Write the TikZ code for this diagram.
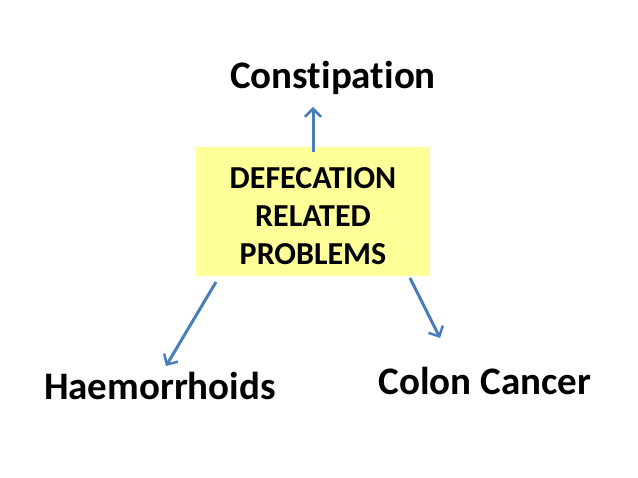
\documentclass[tikz,border=0pt]{standalone}
\usepackage{fontspec}
\setmainfont{Carlito}[Ligatures=NoCommon]
\usepackage{xcolor}
\usetikzlibrary{arrows.meta,positioning}
\definecolor{arrowblue}{HTML}{4A7EBB}
\definecolor{boxyellow}{HTML}{FFFF99}

\begin{document}
\begin{tikzpicture}[x=1pt, y=1pt,
    topic/.style={font=\fontsize{32}{38}\selectfont\bfseries, align=center, fill=boxyellow, minimum width=234pt, minimum height=129pt, inner sep=0pt},
    outcome/.style={font=\fontsize{39}{44}\selectfont\bfseries, inner sep=0pt},
    link/.style={arrowblue, line width=3pt, -{Straight Barb[length=8pt, width=16pt, line width=2.5pt]}}]
    \useasboundingbox (0,0) rectangle (638,478);
    % Central box
    \node[topic] (problems) at (313,266) {};
    \node[font=\fontsize{32}{38}\selectfont\bfseries, align=center] (problemstext) at (313,262) {DEFECATION\\RELATED\\PROBLEMS};
    % Outcomes
    \node[outcome] (constipation) at (333,400) {Constipation};
    \node[outcome] (haemorrhoids) at (160,92) {Haemorrhoids};
    \node[outcome] (cancer) at (485,97) {Colon Cancer};
    % Arrow ends
    \coordinate (upstart) at (313,326);
    \coordinate (upend) at (313,371);
    \coordinate (leftstart) at (216,196);
    \coordinate (leftend) at (166,112);
    \coordinate (rightstart) at (410,200);
    \coordinate (rightend) at (440,140);
    % Arrows
    \draw[link] (upstart) -- (upend);
    \draw[link] (leftstart) -- (leftend);
    \draw[link] (rightstart) -- (rightend);
\end{tikzpicture}
\end{document}
